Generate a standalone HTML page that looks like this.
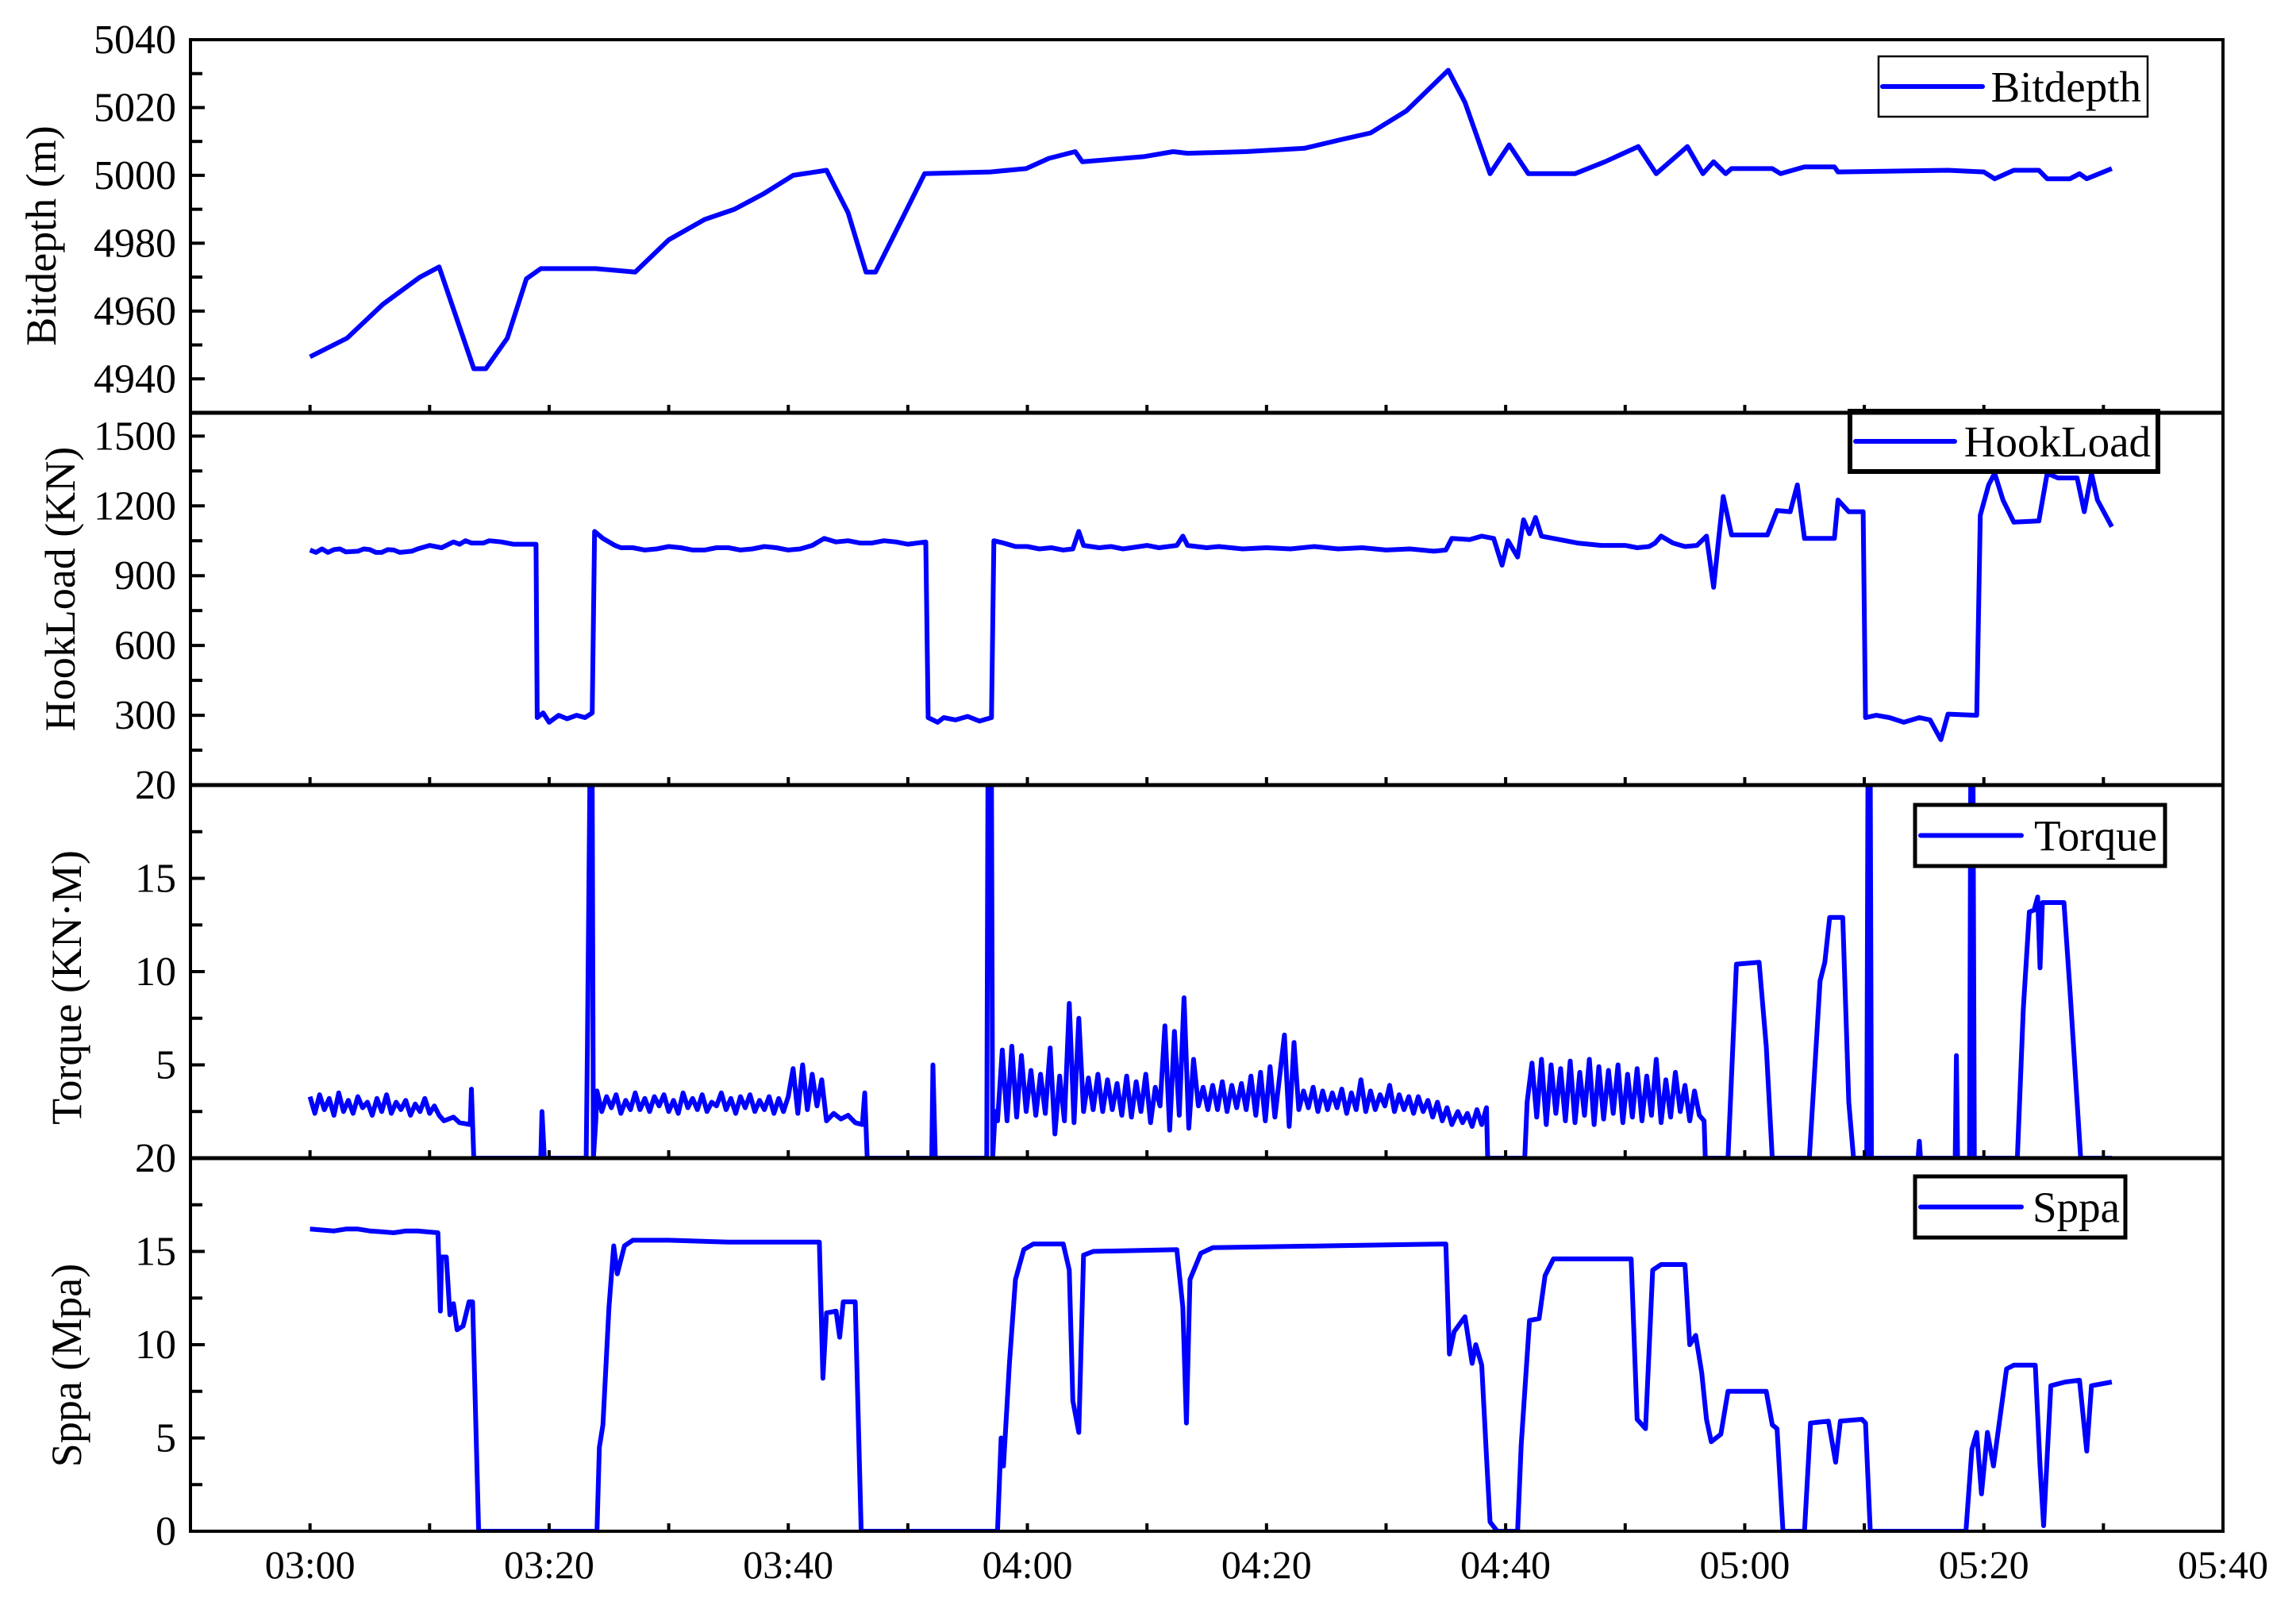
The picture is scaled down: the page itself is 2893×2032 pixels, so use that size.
<!DOCTYPE html>
<html><head><meta charset="utf-8"><style>
html,body{margin:0;padding:0;background:#fff;}
svg{display:block;font-family:"Liberation Serif",serif;}
</style></head><body>
<svg id="chart" width="2893" height="2032" viewBox="0 0 2893 2032" xmlns="http://www.w3.org/2000/svg"></svg>
<script>
// ---- data (time in minutes after 03:00) ----
const xTickLabels = ["03:00","03:20","03:40","04:00","04:20","04:40","05:00","05:20","05:40"];
const xTickMinutes = [0,20,40,60,80,100,120,140,160];

const bitdepthPoints = [[0,4946.5],[3.1,4952],[6.1,4962],[9.2,4970],[10.8,4973],[13.7,4943],[14.7,4943],[16.5,4952],[18.1,4969.5],[19.3,4972.5],[23.9,4972.5],[27.2,4971.5],[30,4981],[33,4987],[35.5,4990],[37.9,4994.5],[40.4,5000],[43.2,5001.5],[45,4989],[46.5,4971.5],[47.3,4971.5],[49.5,4987],[51.4,5000.5],[56.9,5001],[59.9,5002],[61.8,5005],[64,5007],[64.6,5004],[69.7,5005.5],[72.2,5007],[73.4,5006.5],[78.3,5007],[83.2,5008],[86.2,5010.5],[88.7,5012.5],[91.7,5019],[95.2,5031],[96.6,5021.5],[98.7,5000.5],[100.3,5009],[101.9,5000.5],[105.8,5000.5],[108.3,5004],[111.1,5008.5],[112.6,5000.5],[115.2,5008.5],[116.5,5000.5],[117.4,5004],[118.4,5000.5],[118.9,5002],[122.3,5002],[123,5000.5],[125,5002.5],[127.5,5002.5],[127.8,5001],[137,5001.5],[140,5001],[140.9,4999],[142.5,5001.5],[144.6,5001.5],[145.3,4999],[147.2,4999],[148,5000.5],[148.6,4999],[150.7,5002]];

const hookloadPoints = [[0,1010],[0.5,1000],[1,1015],[1.5,1000],[2,1012],[2.5,1015],[3,1002],[4,1005],[4.5,1015],[5,1012],[5.5,1000],[6,1000],[6.5,1012],[7,1010],[7.5,1000],[8.5,1005],[9,1015],[10,1030],[11,1020],[12,1045],[12.5,1035],[13,1050],[13.5,1040],[14.5,1040],[15,1050],[16,1045],[17,1035],[18,1035],[18.9,1035],[19,290],[19.5,310],[20,270],[20.8,300],[21.5,285],[22.3,300],[23,290],[23.6,310],[23.8,1090],[24.5,1060],[25.5,1030],[26,1020],[27,1020],[28,1010],[29,1015],[30,1025],[31,1020],[32,1010],[33,1010],[34,1020],[35,1020],[36,1010],[37,1015],[38,1025],[39,1020],[40,1010],[41,1015],[42,1030],[43,1060],[44,1045],[45,1050],[46,1040],[47,1040],[48,1050],[49,1045],[50,1035],[51.5,1045],[51.7,290],[52.5,270],[53,290],[54,280],[55,295],[56,275],[57,290],[57.2,1050],[58,1040],[59,1025],[60,1025],[61,1015],[62,1020],[63,1010],[63.8,1015],[64.3,1090],[64.7,1030],[66,1020],[67,1025],[68,1015],[70,1030],[71,1020],[72.5,1030],[73,1070],[73.4,1030],[75,1020],[76,1025],[78,1015],[80,1020],[82,1015],[84,1025],[86,1015],[88,1020],[90,1010],[92,1015],[94,1005],[95,1010],[95.5,1060],[97,1055],[98,1070],[99,1060],[99.7,945],[100.2,1050],[101,980],[101.5,1140],[102,1080],[102.5,1150],[103,1070],[104,1060],[106,1040],[108,1030],[110,1030],[111,1020],[112,1025],[112.5,1040],[113,1070],[114,1040],[115,1025],[116,1030],[116.8,1070],[117.4,850],[117.8,1050],[118.2,1240],[118.9,1075],[121.9,1075],[122.7,1180],[123.8,1175],[124.4,1290],[125,1060],[127.5,1060],[127.8,1225],[128.7,1175],[129.9,1175],[130.1,290],[131,300],[132.1,290],[133.3,270],[134.6,290],[135.5,280],[136.4,195],[137,305],[139.4,300],[139.7,1160],[140.4,1290],[140.9,1340],[141.6,1225],[142.5,1130],[144.6,1135],[145.3,1340],[146.2,1320],[147.8,1320],[148.4,1175],[149,1340],[149.5,1225],[150.7,1110]];

const torqueBandStarts = [0,24,57.5,101.8];
const torqueBand1 = [3.3,2.4,3.4,2.6,3.2,2.3,3.5,2.5,3.1,2.4,3.3,2.7,3.0,2.3,3.2,2.5,3.4,2.4,3.0,2.6,3.1,2.3,2.9,2.5,3.2,2.4,2.8,2.3];
const torqueBand2 = [3.6,2.5,3.3,2.7,3.4,2.4,3.1,2.6,3.5,2.6,3.2,2.5,3.3,2.8,3.4,2.5,3.1,2.4,3.5,2.7,3.2,2.6,3.4,2.5,3.0,2.8,3.5,2.6,3.2,2.4,3.3,2.7,3.4,2.5,3.1,2.6,3.3,2.4,3.2,2.5,3.3,4.8,2.4,5.0,2.6,4.5,2.8,4.2,2.0];
const torqueBand3 = [2.0,5.8,2.0,6.0,2.2,5.5,2.5,4.7,2.3,4.5,2.4,5.9,1.3,4.4,2.0,8.3,1.9,7.5,2.5,4.3,2.6,4.5,2.5,4.2,2.6,4.0,2.3,4.4,2.2,4.1,2.5,4.5,1.9,3.8,2.8,7.1,1.5,6.8,2.3,8.6,1.6,5.3,2.8,3.8,2.6,3.9,2.6,4.1,2.5,3.9,2.7,4.0,2.6,4.4,2.3,4.6,2.0,4.9,2.2,4.4,6.6,1.7,6.2,2.6,3.6,2.7,3.8,2.5,3.6,2.6,3.5,2.7,3.7,2.4,3.5,2.6,4.2,2.5,3.6,2.6,3.4,2.8,3.9,2.5,3.4,2.6,3.3,2.4,3.3,2.5,3.1,2.2,3.0,2.0,2.7];
const torqueBand4 = [3.0,5.1,2.2,5.3,1.8,5.0,2.4,4.8,2.0,5.2,1.9,4.6,2.3,5.3,1.8,4.9,2.1,4.7,2.4,5.0,1.9,4.5,2.2,4.8,2.0,4.4,2.3,5.3,1.9,4.2,2.2,4.6,2.5,3.9,2.0,3.6,2.3];
const torqueEvents = [[11.2,2.0],[12,2.2],[12.5,1.9],[13.4,1.8],[13.5,3.7],[13.7,0],[19.3,0],[19.4,2.5],[19.6,0],[23.1,0],[23.2,5.8],[23.4,20],[23.6,20],[23.7,0],[23.9,2.0],[43.8,2.4],[44.4,2.1],[45,2.3],[45.6,1.9],[46.2,1.8],[46.4,3.5],[46.6,0],[52,0],[52.1,5.0],[52.3,0],[56.6,0],[56.7,20],[57.0,20],[57.1,0],[57.3,2.5],[95.5,1.8],[96,2.5],[96.4,1.9],[96.8,2.4],[97.2,1.7],[97.6,2.6],[98,1.8],[98.4,2.7],[98.5,0],[101.6,0],[116.6,2.0],[116.7,0],[118.6,0],[119.3,10.4],[121.2,10.5],[121.8,6],[122.3,0],[125.4,0],[126.3,9.5],[126.7,10.5],[127.1,12.9],[128.2,12.9],[128.7,3],[129.1,0],[130.2,0],[130.3,20],[130.5,20],[130.6,0],[134.5,0],[134.6,0.9],[134.7,0],[137.6,0],[137.7,5.5],[137.8,0],[138.8,0],[138.9,20],[139.1,20],[139.2,0],[142.8,0],[143.3,8],[143.8,13.2],[144.2,13.3],[144.5,14.0],[144.7,10.2],[144.9,13.7],[146.7,13.7],[147.2,9],[147.8,3],[148.1,0],[150.7,0]];
const torqueBandStep = 0.4;

const sppaPoints = [[0,16.2],[1,16.15],[2,16.1],[3,16.2],[4,16.2],[5,16.1],[6,16.05],[7,16.0],[8,16.1],[9,16.1],[10.7,16.0],[10.9,11.8],[11,14.7],[11.4,14.7],[11.7,11.6],[12,12.2],[12.3,10.8],[12.8,11.0],[13.3,12.3],[13.6,12.3],[14.1,0],[24,0],[24.2,4.5],[24.5,5.7],[25,12],[25.4,15.3],[25.7,13.8],[26.3,15.3],[27,15.6],[30,15.6],[35,15.5],[40,15.5],[42.6,15.5],[42.9,8.2],[43.2,11.7],[44,11.8],[44.3,10.4],[44.6,12.3],[45.6,12.3],[46.1,0],[57.5,0],[57.8,5],[58,3.5],[58.5,9],[59,13.5],[59.7,15.1],[60.5,15.4],[63,15.4],[63.5,14],[63.8,7],[64.3,5.3],[64.7,14.8],[65.5,15.0],[72.5,15.1],[73,12],[73.3,5.8],[73.6,13.5],[74.5,14.9],[75.5,15.2],[85,15.3],[95,15.4],[95.3,9.5],[95.7,10.7],[96.6,11.5],[97.2,9],[97.5,10],[98,8.9],[98.4,4],[98.7,0.5],[99.3,0],[101,0],[101.3,4.6],[102,11.3],[102.8,11.4],[103.3,13.7],[104,14.6],[110.5,14.6],[111,6],[111.7,5.5],[112.3,14],[113,14.3],[115,14.3],[115.4,10],[115.9,10.5],[116.4,8.5],[116.8,6],[117.2,4.8],[118,5.2],[118.6,7.5],[121.8,7.5],[122.3,5.7],[122.7,5.5],[123.2,0],[125,0],[125.5,5.8],[127,5.9],[127.6,3.7],[128,5.9],[129.8,6],[130.1,5.8],[130.5,0],[138.5,0],[139,4.4],[139.4,5.3],[139.8,2],[140.3,5.3],[140.8,3.5],[141.9,8.7],[142.5,8.9],[144.3,8.9],[144.7,3.5],[145,0.3],[145.6,7.8],[146.8,8.0],[148,8.1],[148.6,4.3],[149,7.8],[150.7,8.0]];

// ---- layout ----
const NS = "http://www.w3.org/2000/svg";
const svg = document.getElementById('chart');
const X0 = 240, X1 = 2801, TMIN = -10, TMAX = 160;
function xs(t){ return X0 + (t - TMIN) / (TMAX - TMIN) * (X1 - X0); }
const panels = [
  {name:'bitdepth', top:50, bot:520, min:4930, max:5040, major:[4940,4960,4980,5000,5020,5040], minorStep:10, title:'Bitdepth (m)', tx:52, ty:297, legend:'Bitdepth', lx:2367, ly:71, lw:339, lh:76, lb:2.5, l1:2372, l2:2498, te:2698},
  {name:'hookload', top:520, bot:989, min:0, max:1600, major:[300,600,900,1200,1500], minorStep:150, title:'HookLoad (KN)', tx:76, ty:742, legend:'HookLoad', lx:2331, ly:518, lw:388, lh:76, lb:6, l1:2338, l2:2463, te:2710, extraLabel:'20'},
  {name:'torque', top:989, bot:1459, min:0, max:20, major:[5,10,15], minorStep:2.5, title:'Torque (KN·M)', tx:84, ty:1244, legend:'Torque', lx:2413, ly:1014, lw:315, lh:77, lb:5, l1:2420, l2:2547, te:2718, extraLabel:'20'},
  {name:'sppa', top:1459, bot:1929, min:0, max:20, major:[0,5,10,15], minorStep:2.5, title:'Sppa (Mpa)', tx:84, ty:1720, legend:'Sppa', lx:2413, ly:1482, lw:265, lh:77, lb:5, l1:2420, l2:2547, te:2671}
];
function el(tag, attrs, parent){ const e=document.createElementNS(NS,tag); for(const k in attrs) e.setAttribute(k,attrs[k]); (parent||svg).appendChild(e); return e; }
function ys(p,v){ return p.bot - (v - p.min)/(p.max - p.min)*(p.bot - p.top); }

function buildTorque(){
  const bands=[torqueBand1,torqueBand2,torqueBand3,torqueBand4];
  let pts=torqueEvents.slice();
  bands.forEach((b,bi)=>b.forEach((v,i)=>pts.push([torqueBandStarts[bi]+i*torqueBandStep, v])));
  pts.sort((a,b)=>a[0]-b[0]);
  return pts;
}
const seriesData = {bitdepth:bitdepthPoints, hookload:hookloadPoints, torque:buildTorque(), sppa:sppaPoints};

const defs = el('defs',{});
panels.forEach((p,pi)=>{
  const cp = el('clipPath',{id:'clip'+pi},defs);
  el('rect',{x:X0,y:p.top,width:X1-X0,height:p.bot-p.top},cp);
});

panels.forEach((p,pi)=>{
  const g = el('g',{});
  
  
  const pts = seriesData[p.name].map(d=>xs(d[0]).toFixed(1)+','+ys(p,Math.min(Math.max(d[1],p.min-1),p.max+1)).toFixed(1)).join(' ');
  const line = el('polyline',{points:pts,fill:'none',stroke:'#0000ff','stroke-width':6,'stroke-linejoin':'round','clip-path':'url(#clip'+pi+')'},g);
  
  
  for(let v=p.min; v<=p.max+1e-9; v+=p.minorStep){
    const y=ys(p,v);
    if (Math.abs(y-p.top)<2 || Math.abs(y-p.bot)<2) continue;
    const isMajor = p.major.some(m=>Math.abs(m-v)<1e-6);
    el('line',{x1:X0,x2:X0+(isMajor?18:15),y1:y,y2:y,stroke:'#000','stroke-width':4},g);
  }
  p.major.forEach(v=>{
    const t = el('text',{x:222,y:ys(p,v)+17,'text-anchor':'end','font-size':52,fill:'#000'},g);
    t.textContent = String(v);
    
    
  });
  if(p.extraLabel){
    const t = el('text',{x:222,y:p.bot+17,'text-anchor':'end','font-size':52,fill:'#000'},g);
    t.textContent = p.extraLabel;
    
    
  }
  for(let m=0; m<=160; m+=10){
    el('line',{x1:xs(m),x2:xs(m),y1:p.bot,y2:p.bot-10,stroke:'#000','stroke-width':4},g);
  }
  const tt = el('text',{x:0,y:0,'text-anchor':'middle','font-size':54,fill:'#000',transform:'translate('+(p.tx+18)+','+p.ty+') rotate(-90)'},g);
  tt.textContent = p.title;
  
  
  const lg = el('g',{},g);
  
  
  el('rect',{x:p.lx,y:p.ly,width:p.lw,height:p.lh,fill:'#fff',stroke:'#000','stroke-width':p.lb},lg);
  const cy=p.ly+p.lh/2;
  el('line',{x1:p.l1,x2:p.l2,y1:cy,y2:cy,stroke:'#0000ff','stroke-width':6,'stroke-linecap':'round'},lg);
  const lt = el('text',{x:p.te,y:cy+19,'text-anchor':'end','font-size':55,fill:'#000'},lg);
  lt.textContent = p.legend;
});

const frame = el('g',{});


el('rect',{x:X0,y:panels[0].top,width:X1-X0,height:panels[3].bot-panels[0].top,fill:'none',stroke:'#000','stroke-width':4},frame);
panels.slice(0,3).forEach(p=>el('line',{x1:X0,x2:X1,y1:p.bot,y2:p.bot,stroke:'#000','stroke-width':5},frame));

xTickLabels.forEach((lab,i)=>{
  const t = el('text',{x:xs(xTickMinutes[i]),y:1988,'text-anchor':'middle','font-size':50,fill:'#000'});
  t.textContent = lab;
  
  
});
</script>
</body></html>
